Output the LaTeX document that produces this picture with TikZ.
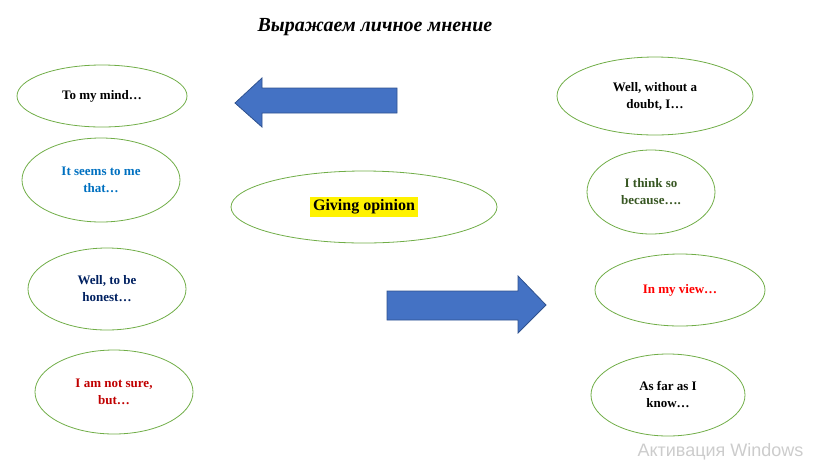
\documentclass[tikz,border=0pt]{standalone}
\usepackage{fontspec}
\setmainfont{Liberation Serif}
\newfontfamily\wmfont{Liberation Sans}
\usetikzlibrary{shapes.geometric}
\definecolor{ovalgreen}{RGB}{112,173,71}
\definecolor{arrowblue}{RGB}{68,114,196}
\definecolor{arrowedge}{RGB}{47,82,143}
\definecolor{seemblue}{RGB}{0,112,192}
\definecolor{navy}{RGB}{0,32,96}
\definecolor{darkred}{RGB}{192,0,0}
\definecolor{darkgreen}{RGB}{56,87,35}
\tikzstyle{oval}=[ellipse,draw=ovalgreen,thick,align=center,font=\bfseries\fontsize{13}{17}\selectfont,inner sep=0pt]
\tikzstyle{bigarrow}=[draw=arrowedge,fill=arrowblue,thick]

\begin{document}
\begin{tikzpicture}[x=1pt,y=-1pt]
    \useasboundingbox (0,0) rectangle (819,467);

    \node (title) at (375,27) {\bfseries\itshape\fontsize{20}{24}\selectfont Выражаем личное мнение};

    % left column
    \node[oval,minimum width=170pt,minimum height=62pt] (L1) at (102,96) {To my mind\dots};
    \node[oval,minimum width=158pt,minimum height=84pt,text=seemblue] (L2) at (101,180) {It seems to me\\that\dots};
    \node[oval,minimum width=158pt,minimum height=82pt,text=navy] (L3) at (107,289) {Well, to be\\honest\dots};
    \node[oval,minimum width=158pt,minimum height=84pt,text=darkred] (L4) at (114,392) {I am not sure,\\but\dots};

    % centre
    \node[oval,minimum width=266pt,minimum height=72pt,font=\bfseries\fontsize{16}{19}\selectfont] (C) at (364,207) {\colorbox{yellow}{Giving opinion}};

    % right column
    \node[oval,minimum width=196pt,minimum height=78pt] (R1) at (655,96) {Well, without a\\doubt, I\dots};
    \node[oval,minimum width=128pt,minimum height=84pt,text=darkgreen] (R2) at (651,192) {I think so\\because\dots.};
    \node[oval,minimum width=170pt,minimum height=72pt,text=red] (R3) at (680,290) {In my view\dots};
    \node[oval,minimum width=154pt,minimum height=82pt] (R4) at (668,395) {As far as I\\know\dots};

    % arrows
    \draw[bigarrow] (235,103) -- (262,78) -- (262,88) -- (397,88) -- (397,113)
        -- (262,113) -- (262,127) -- cycle;
    \draw[bigarrow] (546,305) -- (518,276) -- (518,291) -- (387,291) -- (387,320)
        -- (518,320) -- (518,333) -- cycle;

    \node[text=black!20,anchor=west,font=\wmfont\fontsize{18}{20}\selectfont] (wm) at (634,452) {Активация Windows};
\end{tikzpicture}
\end{document}
